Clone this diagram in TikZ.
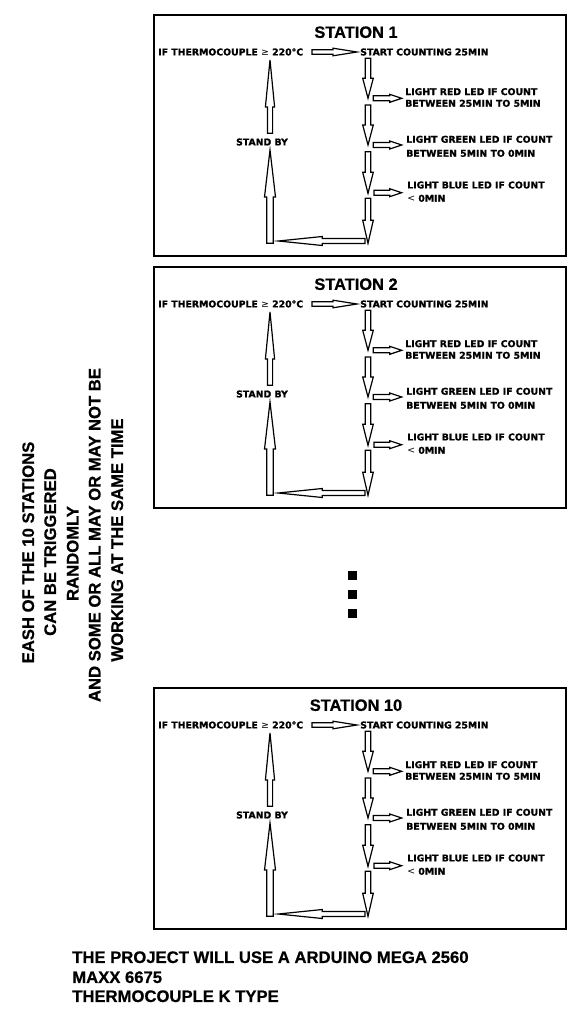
\documentclass[tikz,border=0pt]{standalone}
\usepackage{fontspec}
\setmainfont[BoldFeatures={FakeBold=0.6}]{Liberation Sans}
\newfontfamily\smallfam[BoldFeatures={FakeBold=1.2}]{DejaVu Sans}
\usetikzlibrary{calc}
\tikzset{
  bigtext/.style={font=\bfseries\fontsize{12.5}{15}\selectfont, inner sep=0pt, text height=8.95pt, text depth=0pt},
  sidetext/.style={bigtext, rotate=90},
  titletext/.style={font=\bfseries\fontsize{12.3}{14}\selectfont, inner sep=0pt, text height=8.8pt, text depth=0pt},
  smalltext/.style={font=\smallfam\bfseries\fontsize{7}{8}\selectfont, inner sep=0pt, anchor=west, text height=5.1pt, text depth=0pt},
  centertext/.style={smalltext, anchor=center},
  stationframe/.style={draw, line width=1.4pt},
  blockarr/.style={draw, line width=0.9pt, fill=white, line join=miter},
  dotsq/.style={fill=black, minimum size=6.75pt, inner sep=0pt},
}
% #1 from, #2 to, #3 head length px, #4 shaft half width px, #5 head half width px
\newcommand\blockarrow[5]{%
  \coordinate (hb) at ($(#2)!#3*0.75pt!(#1)$);
  \draw[blockarr] ($(#1)!#4*0.75pt!90:(#2)$) -- ($(hb)!#4*0.75pt!-90:(#1)$)
    -- ($(hb)!#5*0.75pt!-90:(#1)$) -- (#2) -- ($(hb)!#5*0.75pt!90:(#1)$)
    -- ($(hb)!#4*0.75pt!90:(#1)$) -- ($(#1)!#4*0.75pt!-90:(#2)$) -- cycle;
}
\newcommand\drawstation[2]{%
  \begin{scope}[shift={(0,#1)}]
    \draw[stationframe] (154,0) rectangle (566,241);
    \node[titletext] (t-#2) at (356,17) {STATION #2};
    \node[smalltext] (th-#2) at (158,37) {IF THERMOCOUPLE {\mdseries ≥} 220°C};
    \node[smalltext] (sc-#2) at (360,37) {START COUNTING 25MIN};
    \node[smalltext] (ra-#2) at (405,76.7) {LIGHT RED LED IF COUNT};
    \node[smalltext] (rb-#2) at (405,88.3) {BETWEEN 25MIN TO 5MIN};
    \node[smalltext] (ga-#2) at (406,124.3) {LIGHT GREEN LED IF COUNT};
    \node[smalltext] (gb-#2) at (406,138.3) {BETWEEN 5MIN TO 0MIN};
    \node[smalltext] (ba-#2) at (407,170) {LIGHT BLUE LED IF COUNT};
    \node[smalltext] (bb-#2) at (407,183.3) {{\mdseries <} 0MIN};
    \node[centertext] (sb-#2) at (262,127) {STAND BY};
    % arrow end points
    \coordinate (a1-#2) at (312,37);   \coordinate (a2-#2) at (357,37);
    \coordinate (d1a-#2) at (368,43.3);  \coordinate (d1b-#2) at (368,83.3);
    \coordinate (d2a-#2) at (368,90);    \coordinate (d2b-#2) at (368,130);
    \coordinate (d3a-#2) at (368,136.7); \coordinate (d3b-#2) at (368,178.3);
    \coordinate (d4a-#2) at (368,183.3); \coordinate (d4b-#2) at (368,228.3);
    \coordinate (r1a-#2) at (373.3,83.3);  \coordinate (r1b-#2) at (401.7,83.3);
    \coordinate (r2a-#2) at (373.3,130);   \coordinate (r2b-#2) at (401.7,130);
    \coordinate (r3a-#2) at (374,177.7);   \coordinate (r3b-#2) at (401.7,177.7);
    \coordinate (u1a-#2) at (270,118.3); \coordinate (u1b-#2) at (270,45);
    \coordinate (u2a-#2) at (270,228.3); \coordinate (u2b-#2) at (270,135);
    \coordinate (la-#2) at (365,226);    \coordinate (lb-#2) at (278.3,226);
    \blockarrow{a1-#2}{a2-#2}{24}{2.2}{3.8}
    \blockarrow{d1a-#2}{d1b-#2}{20}{2.8}{5.3}
    \blockarrow{d2a-#2}{d2b-#2}{20}{2.8}{5.3}
    \blockarrow{d3a-#2}{d3b-#2}{21}{2.8}{5.3}
    \blockarrow{d4a-#2}{d4b-#2}{23}{2.8}{5.3}
    \blockarrow{r1a-#2}{r1b-#2}{12}{2.5}{4}
    \blockarrow{r2a-#2}{r2b-#2}{12}{2.5}{4}
    \blockarrow{r3a-#2}{r3b-#2}{12}{2.5}{4}
    \blockarrow{u1a-#2}{u1b-#2}{47}{2.6}{4.6}
    \blockarrow{u2a-#2}{u2b-#2}{47}{3.2}{5.5}
    \blockarrow{la-#2}{lb-#2}{44}{2.5}{4.5}
  \end{scope}
}
\begin{document}
\begin{tikzpicture}[x=0.75pt,y=-0.75pt]
  \useasboundingbox[fill=white] (0,0) rectangle (579,1024);
  \drawstation{15}{1}
  \drawstation{267}{2}
  \drawstation{688}{10}
  \node[dotsq] (dot1) at (352,575) {};
  \node[dotsq] (dot2) at (352,594) {};
  \node[dotsq] (dot3) at (352,613) {};
  \node[sidetext] (side1) at (28,552.5) {EASH OF THE 10 STATIONS};
  \node[sidetext] (side2) at (50,552) {CAN BE TRIGGERED};
  \node[sidetext] (side3) at (72.5,553.5) {RANDOMLY};
  \node[sidetext] (side4) at (94.5,535) {AND SOME OR ALL MAY OR MAY NOT BE};
  \node[sidetext] (side5) at (117,540) {WORKING AT THE SAME TIME};
  \node[bigtext, anchor=west] (n1) at (72,957) {THE PROJECT WILL USE A ARDUINO MEGA 2560};
  \node[bigtext, anchor=west] (n2) at (72,977) {MAXX 6675};
  \node[bigtext, anchor=west] (n3) at (72,996) {THERMOCOUPLE K TYPE};
\end{tikzpicture}
\end{document}
